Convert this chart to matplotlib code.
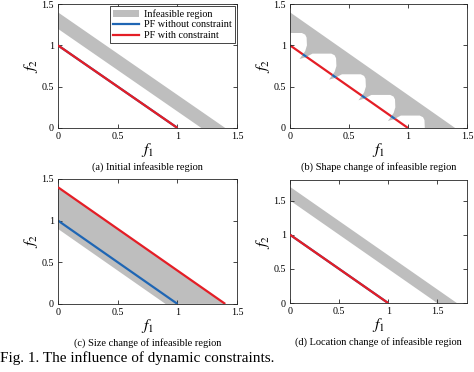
import matplotlib
matplotlib.use("Agg")
import matplotlib.pyplot as plt
from matplotlib.patches import Polygon, Patch
from matplotlib.lines import Line2D

plt.rcParams['font.family'] = ['Liberation Serif', 'DejaVu Serif']
plt.rcParams['mathtext.fontset'] = 'stix'

GRAY = '#bebebe'
BLUE = '#1f66b4'
RED = '#e41e26'

# PF lines: f1 + f2 = intercept
pf_without = 1.0
pf_with = [1.0, 1.0, 1.4, 1.0]

# infeasible bands (lower, upper intercept) for a, c, d
band_a = (1.2, 1.4)
band_c = (0.9, 1.4)
band_d = (1.5, 1.7)

# (b) lower boundary of the infeasible region (f1, f2)
b_lower_f1 = [0.0, 0.10, 0.128, 0.14, 0.143, 0.128, 0.08, 0.13, 0.17, 0.19,
              0.35, 0.378, 0.39, 0.393, 0.378, 0.33, 0.38, 0.42, 0.44,
              0.60, 0.628, 0.64, 0.643, 0.628, 0.58, 0.63, 0.67, 0.69,
              0.85, 0.878, 0.89, 0.893, 0.878, 0.83, 0.88, 0.92, 0.94,
              1.10, 1.128, 1.14, 1.143]
b_lower_f2 = [1.15, 1.15, 1.13, 1.095, 1.00, 0.93, 0.835, 0.855, 0.885, 0.90,
              0.90, 0.88, 0.845, 0.75, 0.68, 0.585, 0.605, 0.635, 0.65,
              0.65, 0.63, 0.595, 0.50, 0.43, 0.335, 0.355, 0.385, 0.40,
              0.40, 0.38, 0.345, 0.25, 0.18, 0.085, 0.105, 0.135, 0.15,
              0.15, 0.13, 0.095, 0.0]
b_upper = 1.4

captions = ['(a) Initial infeasible region', '(b) Shape change of infeasible region',
            '(c) Size change of infeasible region', '(d) Location change of infeasible region']
ticks = [0, 0.5, 1, 1.5]
ticklabels = ['0', '0.5', '1', '1.5']
lims = [1.5, 1.5, 1.5, 1.8]

fig = plt.figure(figsize=(4.74, 3.72), dpi=100)
rects = [[0.1224, 0.656, 0.378, 0.333],
         [0.612, 0.656, 0.373, 0.333],
         [0.1224, 0.183, 0.378, 0.336],
         [0.612, 0.185, 0.373, 0.331]]
axes = [fig.add_axes(r) for r in rects]


def band(ax, lo, hi):
    pts = [(0, lo), (0, hi), (hi, 0), (lo, 0)]
    p = Polygon(pts, closed=True, facecolor=GRAY, edgecolor='none', zorder=1)
    ax.add_patch(p)
    return p


def pf(ax, c, color, z):
    return ax.plot([0, c], [c, 0], color=color, lw=1.6, zorder=z,
                   solid_capstyle='butt')[0]


# (a)
ax = axes[0]
band(ax, *band_a)
pf(ax, pf_without, BLUE, 2)
pf(ax, pf_with[0], RED, 3)

# (b) red under the gray, blue only shows inside the infeasible teeth
ax = axes[1]
pf(ax, pf_with[1], RED, 1)
pts = [(0, b_upper)] + list(zip(b_lower_f1, b_lower_f2)) + [(b_upper, 0)]
pb = Polygon(pts, closed=True, facecolor=GRAY, edgecolor='none', zorder=2)
ax.add_patch(pb)
lb = pf(ax, pf_without, BLUE, 3)
lb.set_clip_path(pb)

# (c)
ax = axes[2]
band(ax, *band_c)
pf(ax, pf_without, BLUE, 2)
pf(ax, pf_with[2], RED, 3)

# (d)
ax = axes[3]
band(ax, *band_d)
pf(ax, pf_without, BLUE, 2)
pf(ax, pf_with[3], RED, 3)

for i, ax in enumerate(axes):
    ax.set_xlim(0, lims[i])
    ax.set_ylim(0, lims[i])
    ax.set_xticks(ticks)
    ax.set_xticklabels(ticklabels)
    ax.set_yticks(ticks)
    ax.set_yticklabels(ticklabels)
    ax.tick_params(direction='in', top=True, right=True, length=3, width=0.6,
                   labelsize=7.2, pad=3, color='#262626')
    for s in ax.spines.values():
        s.set_color('#262626')
        s.set_linewidth(0.6)
    ax.set_xlabel('$f_1$', fontsize=11.5, labelpad=0)
    ax.set_ylabel('$f_2$', fontsize=11.5, labelpad=1)
    pos = ax.get_position()
    fig.text(pos.x0 + pos.width / 2, pos.y0 - 0.105, captions[i], ha='center',
             va='center', fontsize=7.5)

# legend in (a)
handles = [Patch(facecolor=GRAY, edgecolor='none'),
           Line2D([], [], color=BLUE, lw=1.6),
           Line2D([], [], color=RED, lw=1.6)]
axes[0].legend(handles, ['Infeasible region', 'PF without constraint', 'PF with constraint'],
               loc='upper right', fontsize=7.3, frameon=True, fancybox=False,
               edgecolor='#262626', framealpha=1, borderpad=0.3, labelspacing=0.15,
               handlelength=2.6, handletextpad=0.5, borderaxespad=0.2)
axes[0].get_legend().get_frame().set_linewidth(0.6)

fig.text(0.0, 1 - 358 / 372, 'Fig. 1. The influence of dynamic constraints.',
         ha='left', va='center', fontsize=11)

fig.savefig('out.png', dpi=100)
